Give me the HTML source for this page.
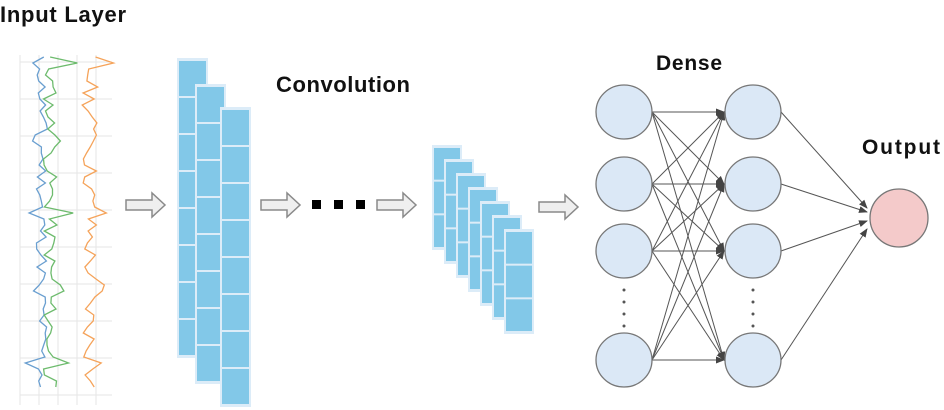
<!DOCTYPE html>
<html><head><meta charset="utf-8"><style>
html,body{margin:0;padding:0;background:#fff;width:944px;height:410px;overflow:hidden}
svg{display:block}
text{font-family:"Liberation Sans",sans-serif;font-weight:bold;fill:#111}
</style></head><body>
<svg id="s" width="944" height="410" viewBox="0 0 944 410" xmlns="http://www.w3.org/2000/svg">
<defs>
<marker id="ah" markerWidth="9" markerHeight="8" refX="8" refY="4" orient="auto" markerUnits="userSpaceOnUse"><path d="M0,0.5 L9,4 L0,7.5 z" fill="#444"/></marker>
</defs>
<text x="0" y="22" font-size="22" textLength="126">Input Layer</text>
<text x="276" y="92" font-size="22" textLength="134">Convolution</text>
<text x="656" y="70" font-size="21" textLength="66">Dense</text>
<text x="862" y="154" font-size="21" textLength="78">Output</text>
<g id="grid" stroke="#e6e6e6" stroke-width="1"></g>
<g id="sig" fill="none" stroke-width="1.3"></g>
<g id="conv"></g>
<g id="arrows" fill="#efefef" stroke="#8a8a8a" stroke-width="1.5"></g>
<rect x="312" y="200" width="9" height="9" fill="#000"/>
<rect x="334" y="200" width="9" height="9" fill="#000"/>
<rect x="356" y="200" width="9" height="9" fill="#000"/>
<g id="net" stroke="#555" stroke-width="1"></g>
</svg>
<script>
var NS="http://www.w3.org/2000/svg";
function el(p,t,a){var e=document.createElementNS(NS,t);for(var k in a)e.setAttribute(k,a[k]);document.getElementById(p).appendChild(e);return e;}
for(var x=20;x<=112;x+=19)el("grid","line",{x1:x,y1:55,x2:x,y2:405});
for(var y=62;y<=400;y+=37)el("grid","line",{x1:20,y1:y,x2:112,y2:y});
var seed=11;function r(){seed=(seed*9301+49297)%233280;return seed/233280;}
function sig(cx,amp,col,spike,sdir){var d="";for(var y=57;y<=392;y+=6){var x=cx+(r()-0.5)*amp*2;var ph=(y-57)%75;if(ph<12)x+=sdir*spike*(1-Math.abs(ph-6)/6);d+=(d?"L":"M")+x.toFixed(1)+","+y;}el("sig","path",{d:d,stroke:col});}
sig(42,6,"#6a9fd0",14,-1);sig(50,7,"#6dbb6d",22,1);sig(90,8,"#f5a35a",18,1);
function stack(x,y,w,h,n){el("conv","rect",{x:x,y:y,width:w,height:h,fill:"#dcecf8"});var ch=(h-4)/n;for(var i=0;i<n;i++)el("conv","rect",{x:x+2,y:y+2+i*ch+1,width:w-4,height:ch-2,fill:"#82c8e8"});}
stack(177,58,31,300,8);stack(195,84,31,300,8);stack(220,107,31,300,8);
for(var i=0;i<7;i++){stack(432+i*12,145+i*14,30,105,3);}
function arr(x,y){el("arrows","path",{d:"M"+x+","+(y-5)+"h26v-7l13,12l-13,12v-7h-26z"});}
arr(126,205);arr(261,205);arr(377,205);arr(539,207);
var L=[112,184,251,360],lx=624,rx=753;
L.forEach(function(a){L.forEach(function(b){el("net","line",{x1:lx+28,y1:a,x2:rx-29,y2:b,"marker-end":"url(#ah)"});});});
var ox=899,oy=218;
L.forEach(function(b,i){var ty=oy+[-10,-6,5,-14][i]*0.6;var tx=ox-32;el("net","line",{x1:rx+28,y1:b,x2:tx,y2:[208,212,221,229][i],"marker-end":"url(#ah)"});});
L.forEach(function(b){el("net","ellipse",{cx:lx,cy:b,rx:28,ry:27,fill:"#dbe8f6",stroke:"#777","stroke-width":1.3});el("net","ellipse",{cx:rx,cy:b,rx:28,ry:27,fill:"#dbe8f6",stroke:"#777","stroke-width":1.3});});
el("net","circle",{cx:ox,cy:oy,r:29,fill:"#f4caca",stroke:"#777","stroke-width":1.3});
[290,302,314,326].forEach(function(y){el("net","circle",{cx:624,cy:y,r:1.5,fill:"#555",stroke:"none"});el("net","circle",{cx:753,cy:y,r:1.5,fill:"#555",stroke:"none"});});
</script>
</body></html>
